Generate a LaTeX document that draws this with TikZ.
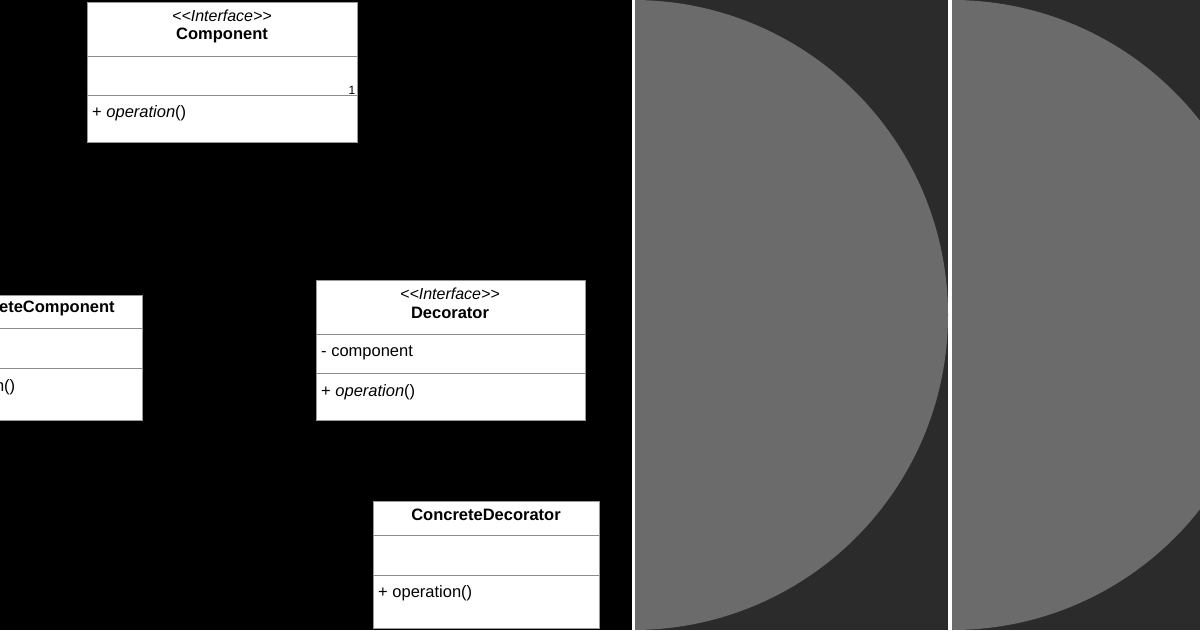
\documentclass[tikz,border=0pt]{standalone}
\usepackage{fontspec}
\setmainfont{Liberation Sans}
\begin{document}
\begin{tikzpicture}[x=1pt,y=-1pt,
  box/.style={draw=black!40,fill=white,line width=0.8pt},
  sep/.style={draw=black!45,line width=0.8pt},
  txt/.style={inner sep=0pt,font=\fontsize{16.5}{19}\selectfont},
  bold/.style={txt,font=\fontsize{16.5}{19}\selectfont\bfseries},
  stereo/.style={txt,font=\fontsize{16}{19}\selectfont\itshape}]
\useasboundingbox (0,0) rectangle (1200,630);
\fill[black] (0,0) rectangle (632,630);
\fill[white] (632,0) rectangle (1200,630);
\fill[black!83] (635,0) rectangle (948,630);
\fill[black!83] (952,0) rectangle (1200,630);
\begin{scope}
\clip (635,0) rectangle (948,630);
\fill[black!58] (633,315) circle (315);
\end{scope}
\begin{scope}
\clip (952,0) rectangle (1200,630);
\fill[black!58] (952,315) circle (315);
\end{scope}
\begin{scope}
\clip (0,0) rectangle (631,630);
% Component
\draw[box] (87,2) rectangle (357,142);
\draw[sep] (87,56) -- (357,56);
\draw[sep] (87,95) -- (357,95);
\node[stereo] (cs) at (222,16) {<{}<Interface>{}>};
\node[bold] (ct) at (222,35) {Component};
\node[txt,font=\fontsize{12}{14}\selectfont] (cm) at (352,90) {1};
\node[txt,anchor=west] (co) at (92,113) {+ \textit{operation}()};
% ConcreteComponent
\draw[box] (-80,295) rectangle (142,420);
\draw[sep] (-80,328) -- (142,328);
\draw[sep] (-80,368) -- (142,368);
\node[bold] (cct) at (33,308) {ConcreteComponent};
\node[txt,anchor=west] (cco) at (-79,387) {+ operation()};
% Decorator
\draw[box] (316,280) rectangle (585,420);
\draw[sep] (316,334) -- (585,334);
\draw[sep] (316,373) -- (585,373);
\node[stereo] (ds) at (450,294) {<{}<Interface>{}>};
\node[bold] (dt) at (450,313) {Decorator};
\node[txt,anchor=west] (da) at (321,353) {- component};
\node[txt,anchor=west] (do) at (321,392) {+ \textit{operation}()};
% ConcreteDecorator
\draw[box] (373,501) rectangle (599,628);
\draw[sep] (373,535) -- (599,535);
\draw[sep] (373,575) -- (599,575);
\node[bold] (cdt) at (486,515) {ConcreteDecorator};
\node[txt,anchor=west] (cdo) at (378,593) {+ operation()};
\end{scope}
\end{tikzpicture}
\end{document}
